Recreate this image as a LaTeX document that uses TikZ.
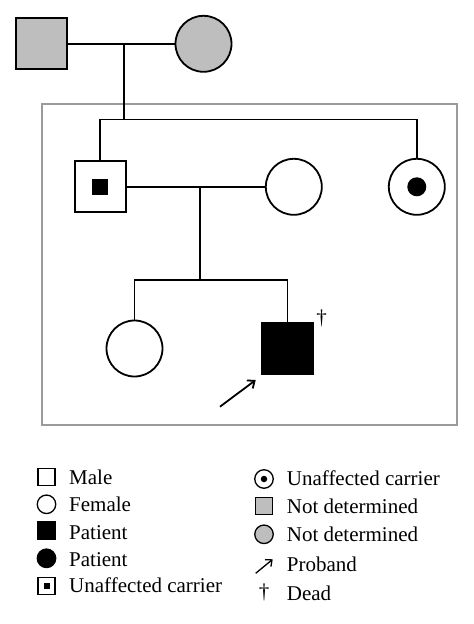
\documentclass[tikz,border=0pt]{standalone}
\usepackage{fontspec}
\setmainfont{Liberation Serif}
\usetikzlibrary{arrows.meta}
\definecolor{nd}{RGB}{190,190,190}
\definecolor{framec}{RGB}{155,155,155}
\begin{document}
\begin{tikzpicture}[x=1pt,y=-1pt,
  font=\fontsize{21}{24}\selectfont,
  ln/.style={line width=1.8pt},
  male/.style={draw,line width=1.8pt,rectangle,minimum size=51pt,inner sep=0pt},
  female/.style={draw,line width=1.8pt,circle,minimum size=56pt,inner sep=0pt},
  lmale/.style={draw,line width=1.3pt,rectangle,minimum size=17pt,inner sep=0pt},
  lfemale/.style={draw,line width=1.3pt,circle,minimum size=18.5pt,inner sep=0pt},
  lbl/.style={anchor=base west,inner sep=0pt},
  proarrow/.style={line width=1.8pt,-{Straight Barb[length=6pt,width=10pt,line width=1.8pt]}},
  lproarrow/.style={line width=1.3pt,-{Straight Barb[length=5pt,width=9pt,line width=1.3pt]}}]
\useasboundingbox (0,0) rectangle (474,624);
% frame
\node[draw=framec,line width=1.8pt,rectangle,minimum width=415.3pt,minimum height=321.3pt,inner sep=0pt] (box) at (249.65,264.35) {};
% generation I
\node[male,fill=nd] (gf) at (41.8,43.8) {};
\node[female,fill=nd] (gm) at (203.5,43.8) {};
\coordinate (m1) at (124.3,43.8);
\coordinate (s1) at (124.3,119.5);
% generation II
\node[male] (father) at (100.2,186.8) {};
\node[rectangle,fill=black,minimum size=16pt,inner sep=0pt] (fcore) at (father) {};
\node[female] (spouse) at (293.8,186.8) {};
\node[female] (aunt) at (416.8,186.8) {};
\node[circle,fill=black,minimum size=19pt,inner sep=0pt] (acore) at (aunt) {};
\coordinate (m2) at (200,186.8);
\coordinate (s2) at (200,280);
% generation III
\node[female] (daughter) at (134.5,348.5) {};
\node[male,fill=black,minimum size=52pt] (proband) at (287.5,348.5) {};
\node[inner sep=0pt] (dag) at (321.5,318) {†};
\coordinate (pa) at (220,406.7);
\coordinate (pb) at (255.7,380);
% connectors
\draw[ln] (gf) -- (gm);
\draw[ln] (m1) -- (s1);
\draw[ln] (father.north) |- (s1) -| (aunt.north);
\draw[ln] (father) -- (spouse);
\draw[ln] (m2) -- (s2);
\draw[ln] (daughter.north) |- (s2) -| (proband.north);
\draw[proarrow] (pa) -- (pb);
% legend left
\node[lmale] (l1) at (46.5,477) {};
\node[lbl] (t1) at (69,484.3) {Male};
\node[lfemale] (l2) at (46.5,504.3) {};
\node[lbl] (t2) at (69,511.7) {Female};
\node[lmale,fill=black] (l3) at (46.5,530.5) {};
\node[lbl] (t3) at (69,539) {Patient};
\node[lfemale,fill=black] (l4) at (46.5,558.3) {};
\node[lbl] (t4) at (69,566.7) {Patient};
\node[lmale] (l5) at (46.5,585.7) {};
\node[rectangle,fill=black,minimum size=6pt,inner sep=0pt] (l5c) at (l5) {};
\node[lbl] (t5) at (69,592.7) {Unaffected carrier};
% legend right
\node[lfemale] (r1) at (264,479) {};
\node[circle,fill=black,minimum size=6.5pt,inner sep=0pt] (r1c) at (r1) {};
\node[lbl] (u1) at (286.7,485) {Unaffected carrier};
\node[lmale,fill=nd] (r2) at (264,505.7) {};
\node[lbl] (u2) at (286.7,513.3) {Not determined};
\node[lfemale,fill=nd] (r3) at (264,534.3) {};
\node[lbl] (u3) at (286.7,541.7) {Not determined};
\coordinate (ra) at (255.7,573.3);
\coordinate (rb) at (272.7,559.3);
\draw[lproarrow] (ra) -- (rb);
\node[lbl] (u4) at (286.7,571) {Proband};
\node[inner sep=0pt] (r5) at (264,592) {†};
\node[lbl] (u5) at (286.7,600) {Dead};
\end{tikzpicture}
\end{document}
